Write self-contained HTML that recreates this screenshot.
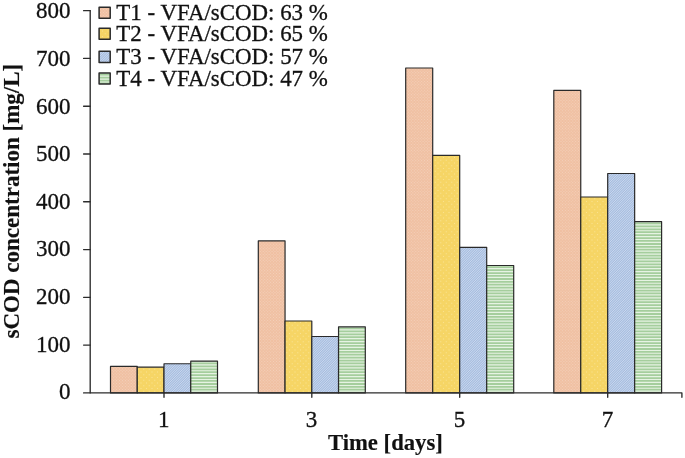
<!DOCTYPE html>
<html lang="en">
<head>
<meta charset="utf-8">
<title>sCOD concentration chart</title>
<style>
html,body{margin:0;padding:0;background:#fff;}
body{width:685px;height:458px;overflow:hidden;font-family:"Liberation Serif",serif;}
svg{display:block;}
text{font-family:"Liberation Serif",serif;fill:#111;stroke:#111;stroke-width:0.3px;}
.b{font-weight:bold;stroke-width:0.15px;}
</style>
</head>
<body>
<svg width="685" height="458" viewBox="0 0 685 458">
<defs>
<pattern id="p1" width="44" height="44" patternUnits="userSpaceOnUse">
<rect width="44" height="44" fill="#f0c0a2"/>
<path d="M0 0.75H44M0 3.68H44M0 6.62H44M0 9.55H44M0 12.48H44M0 15.42H44M0 18.35H44M0 21.28H44M0 24.22H44M0 27.15H44M0 30.08H44M0 33.02H44M0 35.95H44M0 38.88H44M0 41.82H44" stroke="#f4cfb8" stroke-width="1.05" stroke-dasharray="1.05 1.8833" stroke-dashoffset="-0.2" fill="none"/>
<path d="M0 2.22H44M0 5.15H44M0 8.08H44M0 11.02H44M0 13.95H44M0 16.88H44M0 19.82H44M0 22.75H44M0 25.68H44M0 28.62H44M0 31.55H44M0 34.48H44M0 37.42H44M0 40.35H44M0 43.28H44" stroke="#f4cfb8" stroke-width="1.05" stroke-dasharray="1.05 1.8833" stroke-dashoffset="-1.6667" fill="none"/>
</pattern>
<pattern id="p2" width="11.000" height="11.000" patternUnits="userSpaceOnUse">
<rect width="11.000" height="11.000" fill="#f6d565"/>
<rect x="0.20" y="0.20" width="1.10" height="1.10" fill="#fae28e"/>
<rect x="2.95" y="2.95" width="1.10" height="1.10" fill="#fae28e"/>
<rect x="0.20" y="5.70" width="1.10" height="1.10" fill="#fae28e"/>
<rect x="2.95" y="8.45" width="1.10" height="1.10" fill="#fae28e"/>
<rect x="5.70" y="0.20" width="1.10" height="1.10" fill="#fae28e"/>
<rect x="8.45" y="2.95" width="1.10" height="1.10" fill="#fae28e"/>
<rect x="5.70" y="5.70" width="1.10" height="1.10" fill="#fae28e"/>
<rect x="8.45" y="8.45" width="1.10" height="1.10" fill="#fae28e"/>
</pattern>
<pattern id="p3" width="24" height="24" patternUnits="userSpaceOnUse">
<rect width="24" height="24" fill="#a7bde0"/>
<path d="M-0.5 0.5L0.5 -0.5M-0.5 2.9L2.9 -0.5M-0.5 5.3L5.3 -0.5M-0.5 7.7L7.7 -0.5M-0.5 10.1L10.1 -0.5M-0.5 12.5L12.5 -0.5M-0.5 14.9L14.9 -0.5M-0.5 17.3L17.3 -0.5M-0.5 19.7L19.7 -0.5M-0.5 22.1L22.1 -0.5M-0.5 24.5L24.5 -0.5M1.9 24.5L24.5 1.9M4.3 24.5L24.5 4.3M6.7 24.5L24.5 6.7M9.1 24.5L24.5 9.1M11.5 24.5L24.5 11.5M13.9 24.5L24.5 13.9M16.3 24.5L24.5 16.3M18.7 24.5L24.5 18.7M21.1 24.5L24.5 21.1M23.5 24.5L24.5 23.5" stroke="#d0ddf0" stroke-width="0.85" fill="none"/>
</pattern>
<pattern id="p4" width="6" height="35" patternUnits="userSpaceOnUse">
<rect width="6" height="35" fill="#a5ce9d"/>
<path d="M0 0.333H6M0 3.250H6M0 6.166H6M0 9.083H6M0 12.000H6M0 14.916H6M0 17.833H6M0 20.750H6M0 23.666H6M0 26.583H6M0 29.500H6M0 32.416H6" stroke="#e6f3e3" stroke-width="1.1" fill="none"/>
</pattern>
</defs>
<rect width="685" height="458" fill="#ffffff"/>

<g stroke="#2a2a2a" stroke-width="1.20" stroke-linejoin="round">
<rect x="110.50" y="366.38" width="26.75" height="26.52" fill="url(#p1)"/>
<rect x="137.25" y="367.19" width="26.75" height="25.71" fill="url(#p2)"/>
<rect x="164.00" y="363.75" width="26.75" height="29.15" fill="url(#p3)"/>
<rect x="190.75" y="361.22" width="26.75" height="31.68" fill="url(#p4)"/>
<rect x="258.30" y="240.96" width="26.75" height="151.94" fill="url(#p1)"/>
<rect x="285.05" y="320.99" width="26.75" height="71.91" fill="url(#p2)"/>
<rect x="311.80" y="336.52" width="26.75" height="56.38" fill="url(#p3)"/>
<rect x="338.55" y="326.82" width="26.75" height="66.08" fill="url(#p4)"/>
<rect x="405.70" y="67.99" width="27.00" height="324.91" fill="url(#p1)"/>
<rect x="432.70" y="155.43" width="27.00" height="237.47" fill="url(#p2)"/>
<rect x="459.70" y="247.36" width="27.00" height="145.54" fill="url(#p3)"/>
<rect x="486.70" y="265.52" width="27.00" height="127.38" fill="url(#p4)"/>
<rect x="553.80" y="90.44" width="26.95" height="302.46" fill="url(#p1)"/>
<rect x="580.75" y="197.00" width="26.95" height="195.90" fill="url(#p2)"/>
<rect x="607.70" y="173.49" width="26.95" height="219.41" fill="url(#p3)"/>
<rect x="634.65" y="221.65" width="26.95" height="171.25" fill="url(#p4)"/>
</g>
<g stroke="#2c2c2c" stroke-width="1.35" fill="none" stroke-linecap="round" stroke-linejoin="round">
<path d="M90.2 10.65 V392.90"/>
<path d="M83.6 392.90 H681.9 V397.3"/>
<path d="M83.6 345.12 H90.2"/>
<path d="M83.6 297.34 H90.2"/>
<path d="M83.6 249.56 H90.2"/>
<path d="M83.6 201.77 H90.2"/>
<path d="M83.6 153.99 H90.2"/>
<path d="M83.6 106.21 H90.2"/>
<path d="M83.6 58.43 H90.2"/>
<path d="M83.6 10.65 H90.2"/>
<path d="M164.00 392.90 V397.3"/>
<path d="M311.80 392.90 V397.3"/>
<path d="M459.70 392.90 V397.3"/>
<path d="M607.70 392.90 V397.3"/>
</g>
<g font-size="23.00" text-anchor="end">
<text x="70.6" y="399.17">0</text>
<text x="70.6" y="351.57">100</text>
<text x="70.6" y="303.97">200</text>
<text x="70.6" y="256.38">300</text>
<text x="70.6" y="208.77">400</text>
<text x="70.6" y="161.17">500</text>
<text x="70.6" y="113.57">600</text>
<text x="70.6" y="65.97">700</text>
<text x="70.6" y="18.37">800</text>
</g>
<g font-size="23.00" text-anchor="middle">
<text x="163.70" y="426.8">1</text>
<text x="311.50" y="426.8">3</text>
<text x="459.40" y="426.8">5</text>
<text x="607.40" y="426.8">7</text>
</g>
<text class="b" font-size="22.70" text-anchor="middle" x="385.4" y="450.2">Time [days]</text>
<text class="b" font-size="23.00" text-anchor="middle" transform="translate(18.9 201.1) rotate(-90)">sCOD concentration [mg/L]</text>
<g font-size="22.90">
<rect x="99.1" y="7.25" width="11.1" height="11.1" fill="url(#p1)" stroke="#2a2a2a" stroke-width="1.5" stroke-linejoin="round"/>
<text x="116.3" y="19.60">T1 - VFA/sCOD: 63 %</text>
<rect x="99.1" y="28.25" width="11.1" height="11.1" fill="url(#p2)" stroke="#2a2a2a" stroke-width="1.5" stroke-linejoin="round"/>
<text x="116.3" y="41.15">T2 - VFA/sCOD: 65 %</text>
<rect x="99.1" y="51.30" width="11.1" height="11.1" fill="url(#p3)" stroke="#2a2a2a" stroke-width="1.5" stroke-linejoin="round"/>
<text x="116.3" y="63.85">T3 - VFA/sCOD: 57 %</text>
<rect x="99.1" y="72.90" width="11.1" height="11.1" fill="url(#p4)" stroke="#2a2a2a" stroke-width="1.5" stroke-linejoin="round"/>
<text x="116.3" y="85.65">T4 - VFA/sCOD: 47 %</text>
</g>
</svg>
</body>
</html>
